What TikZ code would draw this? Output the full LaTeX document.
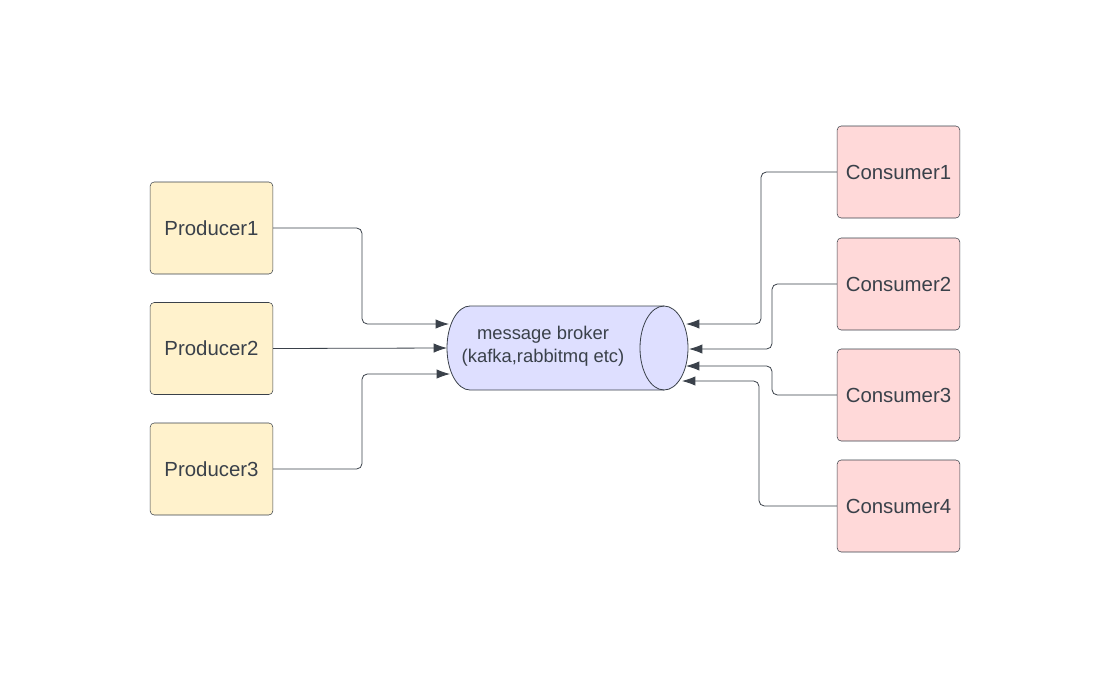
\documentclass[tikz,border=0pt]{standalone}
\usepackage{fontspec}
\setmainfont{Liberation Sans}
\usetikzlibrary{arrows.meta}
\definecolor{prodfill}{HTML}{FFF2CC}
\definecolor{consfill}{HTML}{FFD9D9}
\definecolor{brokerfill}{HTML}{DEDFFF}
\definecolor{edge}{HTML}{3A414A}
\tikzset{
  box/.style={draw=edge,rounded corners=3pt,minimum width=92pt,minimum height=69pt,
    font=\fontsize{15.3}{18}\selectfont,text=edge,inner sep=0pt},
  prod/.style={box,fill=prodfill},
  cons/.style={box,fill=consfill},
  link/.style={draw=edge,-{Latex[length=10pt,width=7pt]},line width=0.6pt}
}
\begin{document}
\begin{tikzpicture}[x=0.75pt,y=-0.75pt]
  \useasboundingbox (0,0) rectangle (1118,693);
  % broker cylinder
  \fill[brokerfill,draw=edge,line width=0.6pt] (470,306) -- (664,306)
    arc[start angle=-90,end angle=90,x radius=24,y radius=42]
    -- (470,390) arc[start angle=90,end angle=270,x radius=23,y radius=42] -- cycle;
  \draw[edge,line width=0.6pt] (664,306) arc[start angle=270,end angle=90,x radius=24,y radius=42];
  \node[text=edge,align=center,font=\fontsize{13.8}{17}\selectfont] (broker) at (543,346)
    {message broker\\(kafka,rabbitmq etc)};
  % producers and consumers
  \node[prod] (p1) at (211.5,228) {Producer1};
  \node[prod] (p2) at (211.5,348.5) {Producer2};
  \node[prod] (p3) at (211.5,469) {Producer3};
  \node[cons] (c1) at (898.5,172) {Consumer1};
  \node[cons] (c2) at (898.5,284) {Consumer2};
  \node[cons] (c3) at (898.5,395) {Consumer3};
  \node[cons] (c4) at (898.5,506) {Consumer4};
  % arrow ends on the broker
  \coordinate (in1) at (449,324);
  \coordinate (in2) at (447,348);
  \coordinate (in3) at (450,374);
  \coordinate (out1) at (686,324);
  \coordinate (out2) at (689,349);
  \coordinate (out3) at (686,366);
  \coordinate (out4) at (682,381);
  % connectors
  \draw[link,rounded corners=4pt] (p1.east) -- (362,228) -- (362,324) -- (in1);
  \draw[link] (p2.east) -- (in2);
  \draw[link,rounded corners=4pt] (p3.east) -- (362,469) -- (362,374) -- (in3);
  \draw[link,rounded corners=4pt] (c1.west) -- (761,172) -- (761,324) -- (out1);
  \draw[link,rounded corners=4pt] (c2.west) -- (772,284) -- (772,349) -- (out2);
  \draw[link,rounded corners=4pt] (c3.west) -- (772,395) -- (772,366) -- (out3);
  \draw[link,rounded corners=4pt] (c4.west) -- (759,506) -- (759,381) -- (out4);
\end{tikzpicture}
\end{document}
